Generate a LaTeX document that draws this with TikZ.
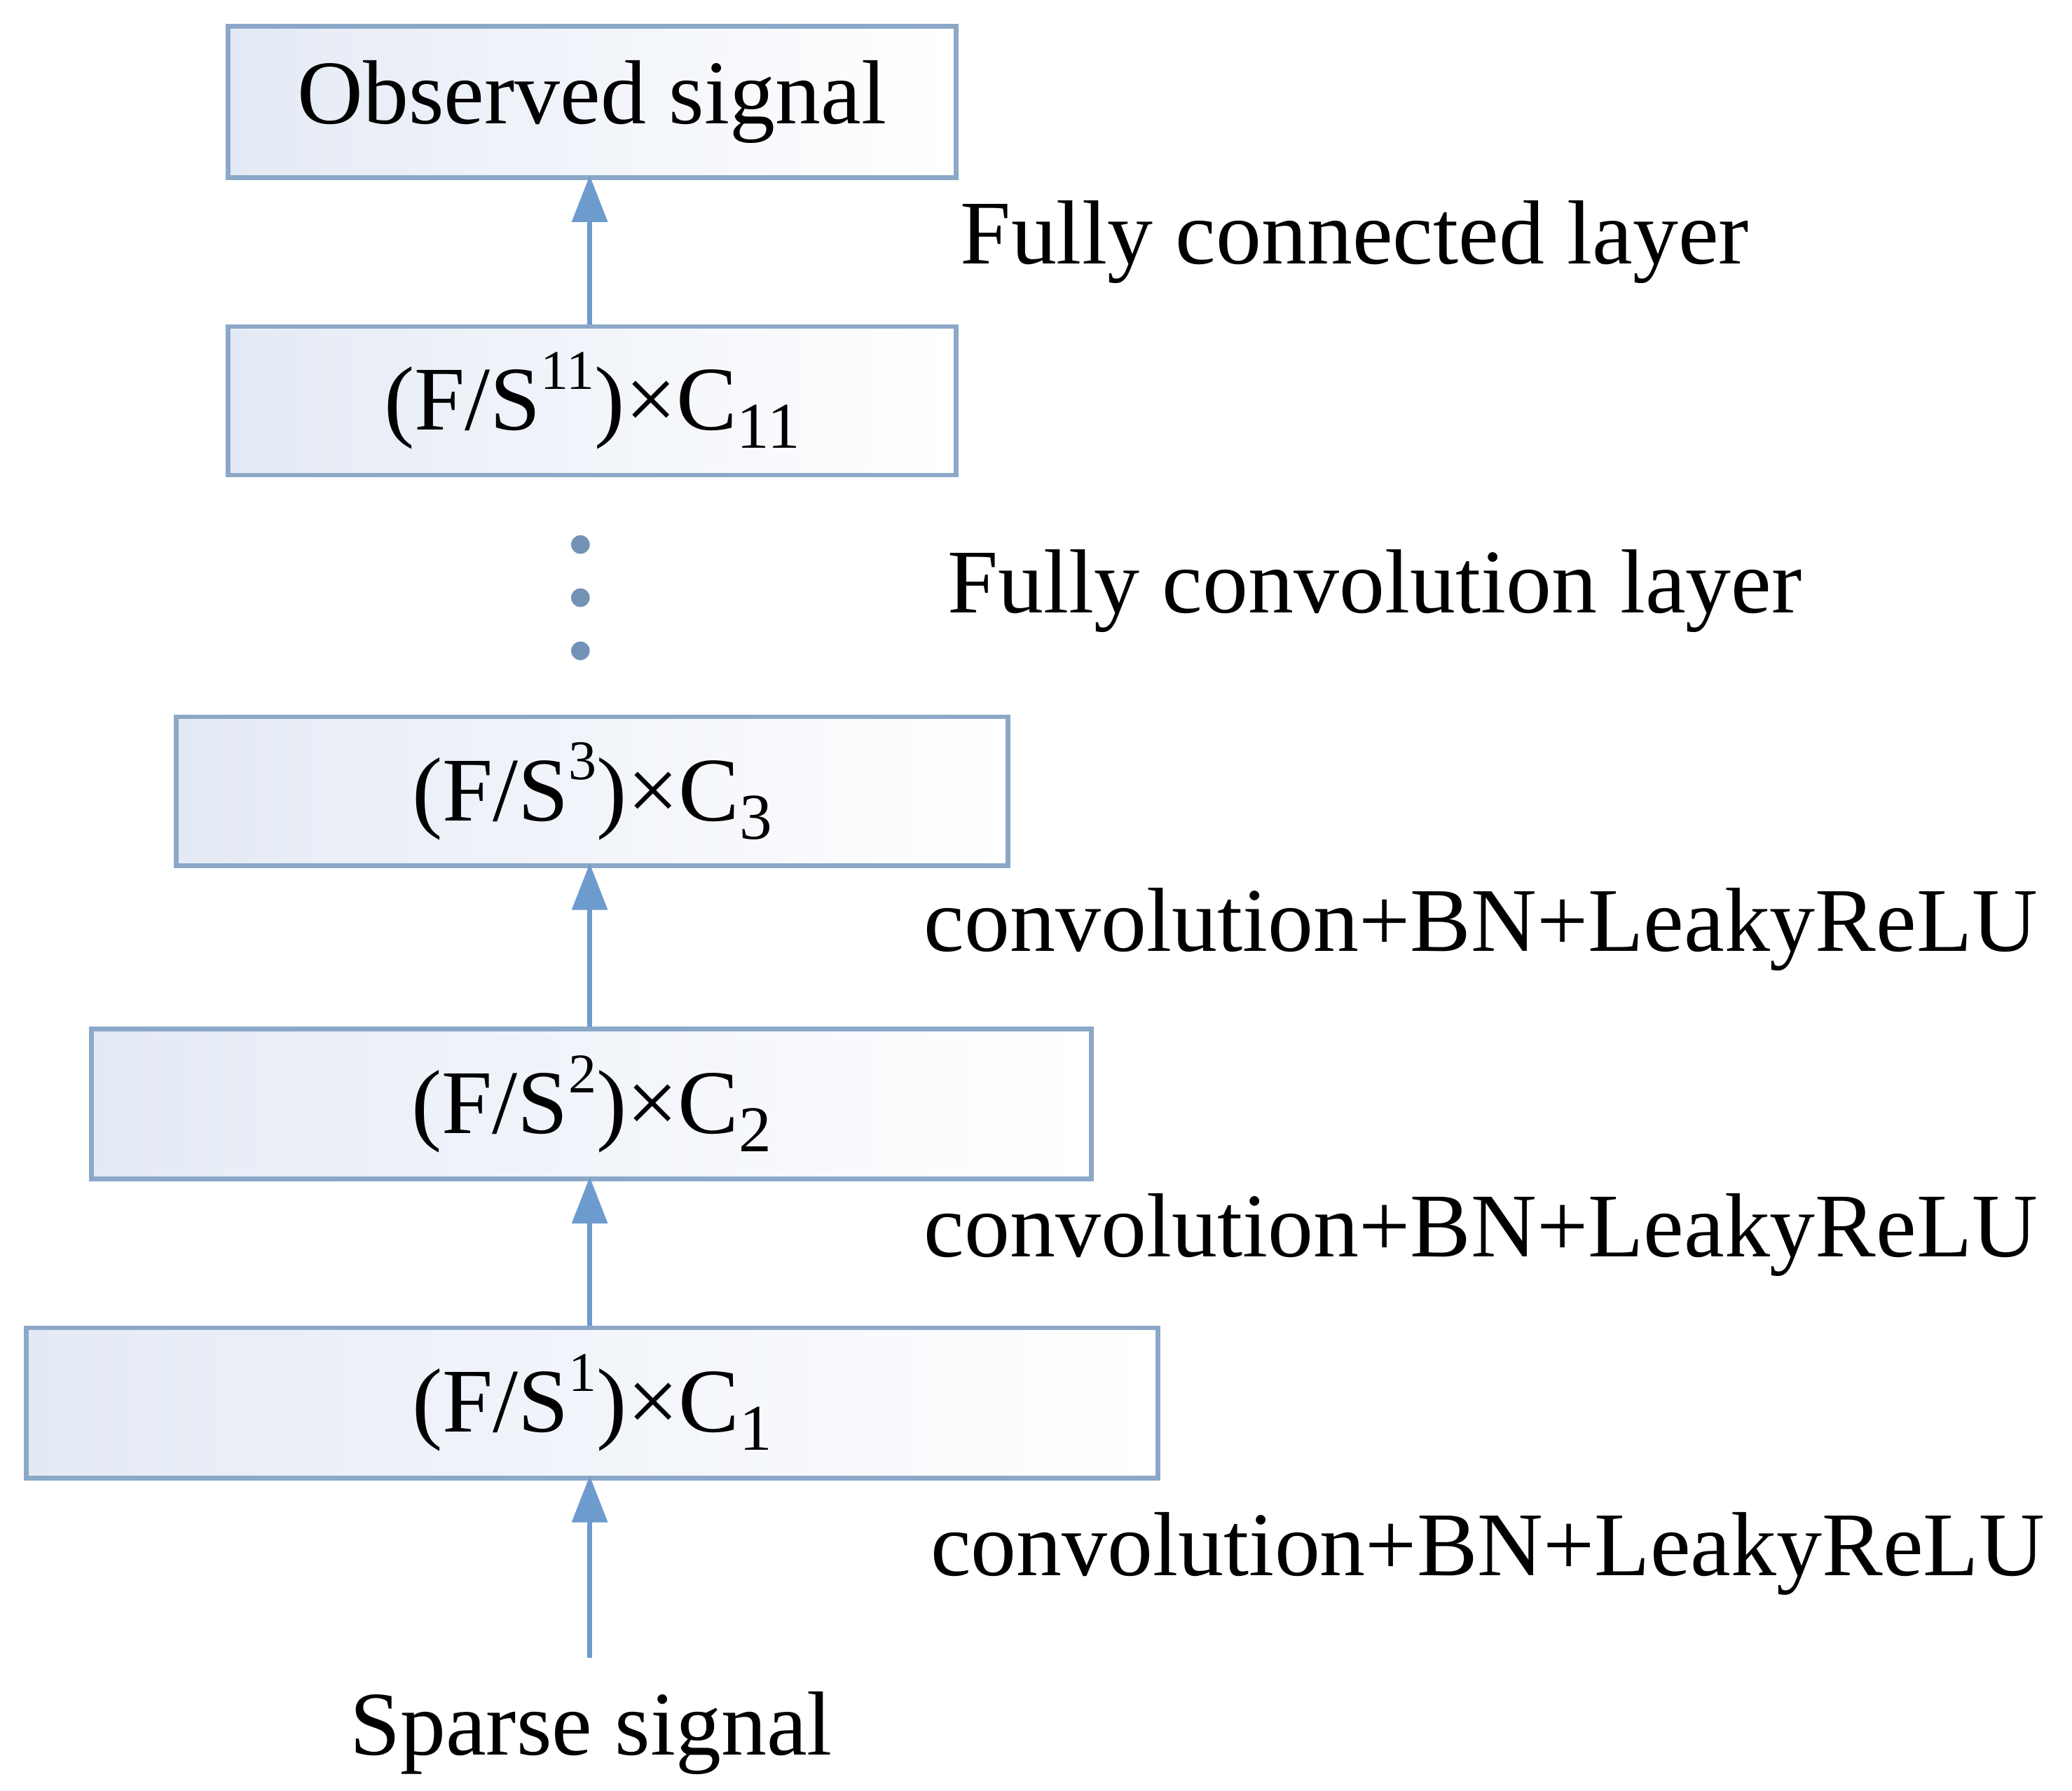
\documentclass[tikz,border=0pt]{standalone}
\usepackage{fontspec}
\setmainfont{Liberation Serif}
\usetikzlibrary{arrows.meta}
\definecolor{bord}{RGB}{140,168,200}
\definecolor{arr}{RGB}{110,155,205}
\definecolor{shd}{RGB}{228,234,245}
\newcommand{\mysup}[1]{\raisebox{0.45em}{\fontsize{24}{26}\selectfont #1}}
\newcommand{\mysub}[1]{\raisebox{-0.2em}{\fontsize{28}{30}\selectfont #1}}
\tikzset{
 lay/.style={draw=bord,line width=2pt,left color=shd,right color=white,inner sep=0pt,anchor=north west},
 conn/.style={draw=arr,line width=2pt,-{Triangle[length=20pt,width=15pt]}},
 lbl/.style={font=\fontsize{39}{44}\selectfont,inner sep=0pt},
 dot/.style={circle,fill=arr!70!gray,inner sep=0pt,minimum size=8pt}
}
\begin{document}
\begin{tikzpicture}[x=0.02cm,y=-0.02cm]
\useasboundingbox (0,0) rectangle (1560,1348);
\node[lay,minimum width=548*0.02cm,minimum height=114*0.02cm] (obs) at (170,18) {};
\node[lbl] at (obs.center) {Observed signal};
\node[lay,minimum width=548*0.02cm,minimum height=112*0.02cm] (b11) at (170,244) {};
\node[lbl] at (b11.center) {(F/S\mysup{11})×C\mysub{11}};
\node[lay,minimum width=626*0.02cm,minimum height=112*0.02cm] (b3) at (131,538) {};
\node[lbl] at (b3.center) {(F/S\mysup{3})×C\mysub{3}};
\node[lay,minimum width=753*0.02cm,minimum height=113*0.02cm] (b2) at (67,773) {};
\node[lbl] at (b2.center) {(F/S\mysup{2})×C\mysub{2}};
\node[lay,minimum width=852*0.02cm,minimum height=113*0.02cm] (b1) at (18,998) {};
\node[lbl] at (b1.center) {(F/S\mysup{1})×C\mysub{1}};
\node[lbl] (sp) at (445,1305) {Sparse signal};
\coordinate (s0) at (444,1248);
\coordinate (t1) at (444,1111);
\coordinate (s1) at (444,998);
\coordinate (t2) at (444,886);
\coordinate (s2) at (444,773);
\coordinate (t3) at (444,650);
\coordinate (s3) at (444,244);
\coordinate (t4) at (444,132);
\draw[conn] (s0) -- (t1);
\draw[conn] (s1) -- (t2);
\draw[conn] (s2) -- (t3);
\draw[conn] (s3) -- (t4);
\node[dot] (d1) at (437,410) {};
\node[dot] (d2) at (437,450) {};
\node[dot] (d3) at (437,490) {};
\node[lbl] (l1) at (1020,182) {Fully connected layer};
\node[lbl] (l2) at (1035,445) {Fully convolution layer};
\node[lbl] (l3) at (1115,700) {convolution+BN+LeakyReLU};
\node[lbl] (l4) at (1115,930) {convolution+BN+LeakyReLU};
\node[lbl] (l5) at (1120,1170) {convolution+BN+LeakyReLU};
\end{tikzpicture}
\end{document}
